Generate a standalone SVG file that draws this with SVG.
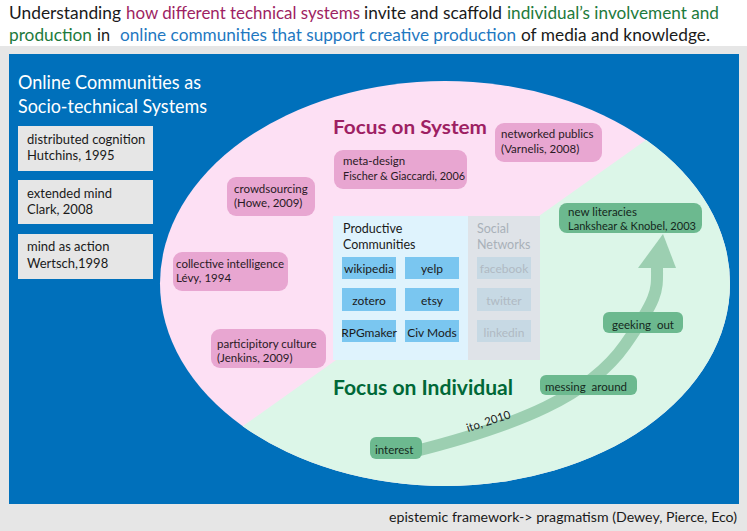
<svg xmlns="http://www.w3.org/2000/svg" width="747" height="531" viewBox="0 0 747 531">
<defs>
<clipPath id="ell"><ellipse cx="445" cy="283.5" rx="285" ry="202.5"/></clipPath>
<style>
text{font-family:Lato,"Noto Sans",sans-serif;}
.t{font-size:18px;fill:#1a1a1a;}
.mg{fill:#9e1f63;}
.gr{fill:#1d7a3c;}
.bl{fill:#1f78c1;}
.gb{fill:#e6e6e6;}
.gt{font-size:13px;fill:#1a1a1a;}
.pb{fill:#e8a6d1;}
.pt{font-size:11.5px;fill:#2a1a25;}
.nb{fill:#6cb98f;}
.nt{font-size:11.5px;fill:#14281c;}
.tile{fill:#7ac6f0;}
.tt{font-size:12px;fill:#1a1a1a;text-anchor:middle;}
.stile{fill:#c7d9e4;}
.st{font-size:12px;fill:#b0bac3;text-anchor:middle;}
</style>
</defs>
<rect x="0" y="0" width="747" height="531" fill="#e6e6e6"/>
<rect x="0" y="0" width="747" height="46" fill="#ffffff"/>
<g id="title">
<text class="t" x="9" y="19" textLength="112" lengthAdjust="spacingAndGlyphs">Understanding</text>
<text class="t mg" x="126" y="19" textLength="234" lengthAdjust="spacingAndGlyphs">how different technical systems</text>
<text class="t" x="364" y="19" textLength="138" lengthAdjust="spacingAndGlyphs">invite and scaffold</text>
<text class="t gr" x="507" y="19" textLength="212" lengthAdjust="spacingAndGlyphs">individual’s involvement and</text>
<text class="t gr" x="9" y="41" textLength="83" lengthAdjust="spacingAndGlyphs">production</text>
<text class="t" x="97" y="41" textLength="13" lengthAdjust="spacingAndGlyphs">in</text>
<text class="t bl" x="120" y="41" textLength="396" lengthAdjust="spacingAndGlyphs">online communities that support creative production</text>
<text class="t" x="521" y="41" textLength="189" lengthAdjust="spacingAndGlyphs">of media and knowledge.</text>
</g>
<rect x="9" y="54" width="730" height="450" fill="#0070bb"/>
<g id="ellipse">
<ellipse cx="445" cy="283.5" rx="285" ry="202.5" fill="#fde0f4"/>
<polygon clip-path="url(#ell)" points="760,59 150,492 150,531 760,531" fill="#dcf6e8"/>
</g>
<g id="heading">
<text x="18" y="89" font-size="19" fill="#ffffff" textLength="183" lengthAdjust="spacingAndGlyphs">Online Communities as</text>
<text x="18" y="113" font-size="19" fill="#ffffff" textLength="189" lengthAdjust="spacingAndGlyphs">Socio-technical Systems</text>
</g>
<g id="distributed">
<rect class="gb" x="18" y="126" width="135" height="45"/>
<text class="gt" x="27" y="144">distributed cognition</text>
<text class="gt" x="27" y="160">Hutchins, 1995</text>
</g>
<g id="extended">
<rect class="gb" x="18" y="180" width="135" height="44"/>
<text class="gt" x="27" y="198">extended mind</text>
<text class="gt" x="27" y="214">Clark, 2008</text>
</g>
<g id="mindaction">
<rect class="gb" x="18" y="234" width="135" height="45"/>
<text class="gt" x="27" y="251">mind as action</text>
<text class="gt" x="27" y="268">Wertsch,1998</text>
</g>
<g id="focus-system">
<text x="333" y="134" font-size="19" font-weight="bold" fill="#9e1f63" textLength="154" lengthAdjust="spacingAndGlyphs">Focus on System</text>
</g>
<g id="focus-individual">
<text x="333" y="395" font-size="21" font-weight="bold" fill="#006837" textLength="180" lengthAdjust="spacingAndGlyphs">Focus on Individual</text>
</g>
<g id="crowdsourcing">
<rect class="pb" x="227" y="177" width="88" height="39" rx="9"/>
<text class="pt" x="234" y="193">crowdsourcing</text>
<text class="pt" x="234" y="207">(Howe, 2009)</text>
</g>
<g id="metadesign">
<rect class="pb" x="334" y="150" width="133" height="39" rx="9"/>
<text class="pt" x="343" y="165">meta-design</text>
<text class="pt" x="343" y="180" textLength="122" lengthAdjust="spacingAndGlyphs">Fischer &amp; Giaccardi, 2006</text>
</g>
<g id="networked">
<rect class="pb" x="495" y="123" width="107" height="39" rx="9"/>
<text class="pt" x="501" y="138">networked publics</text>
<text class="pt" x="501" y="153">(Varnelis, 2008)</text>
</g>
<g id="collective">
<rect class="pb" x="173" y="252" width="115" height="39" rx="9"/>
<text class="pt" x="176" y="268">collective intelligence</text>
<text class="pt" x="176" y="282">Lévy, 1994</text>
</g>
<g id="participatory">
<rect class="pb" x="211" y="329" width="115" height="39" rx="9"/>
<text class="pt" x="217" y="348">participitory culture</text>
<text class="pt" x="217" y="362">(Jenkins, 2009)</text>
</g>
<g id="productive">
<rect x="333" y="216" width="135" height="144" fill="#dff3fd"/>
<text x="343" y="233" font-size="12.5" fill="#1a1a1a">Productive</text>
<text x="343" y="249" font-size="12.5" fill="#1a1a1a">Communities</text>
<rect class="tile" x="342" y="257" width="54" height="22"/><text class="tt" x="369" y="273">wikipedia</text>
<rect class="tile" x="405" y="257" width="54" height="22"/><text class="tt" x="432" y="273">yelp</text>
<rect class="tile" x="342" y="288" width="54" height="23"/><text class="tt" x="369" y="305">zotero</text>
<rect class="tile" x="405" y="288" width="54" height="23"/><text class="tt" x="432" y="305">etsy</text>
<rect class="tile" x="342" y="320" width="54" height="22"/><text class="tt" x="369" y="337">RPGmaker</text>
<rect class="tile" x="405" y="320" width="54" height="22"/><text class="tt" x="432" y="337">Civ Mods</text>
</g>
<g id="social">
<rect x="468" y="216" width="72" height="144" fill="#dfe3e8"/>
<text x="477" y="233" font-size="12.5" fill="#a9b1b9">Social</text>
<text x="477" y="249" font-size="12.5" fill="#a9b1b9">Networks</text>
<rect class="stile" x="477" y="257" width="54" height="22"/><text class="st" x="504" y="273">facebook</text>
<rect class="stile" x="477" y="288" width="54" height="23"/><text class="st" x="504" y="305">twitter</text>
<rect class="stile" x="477" y="320" width="54" height="22"/><text class="st" x="504" y="337">linkedin</text>
</g>
<g id="connectors">
<path d="M412 452 C520 425 590 395 625 345 S657 290 657 266" fill="none" stroke="#9ccfb1" stroke-width="12"/>
<polygon points="663,234 638,268 676,268" fill="#9ccfb1"/>
<text x="468" y="432" font-size="11.5" fill="#1a1a1a" transform="rotate(-18 468 432)">ito, 2010</text>
</g>
<g id="newliteracies">
<rect class="nb" x="559" y="203" width="143" height="30" rx="8"/>
<text class="nt" x="568" y="216">new literacies</text>
<text class="nt" x="568" y="230" textLength="128" lengthAdjust="spacingAndGlyphs">Lankshear &amp; Knobel, 2003</text>
</g>
<g id="geeking">
<rect class="nb" x="603" y="312" width="80" height="21" rx="6"/>
<text class="nt" x="612" y="329" xml:space="preserve">geeking  out</text>
</g>
<g id="messing">
<rect class="nb" x="540" y="375" width="97" height="20" rx="6"/>
<text class="nt" x="545" y="391" xml:space="preserve">messing  around</text>
</g>
<g id="interest">
<rect class="nb" x="370" y="437" width="52" height="22" rx="6"/>
<text class="nt" x="375" y="454">interest</text>
</g>
<g id="footer">
<text x="389" y="522" font-size="13.5" fill="#1a1a1a" textLength="348" lengthAdjust="spacingAndGlyphs">epistemic framework-&gt; pragmatism (Dewey, Pierce, Eco)</text>
</g>
</svg>
